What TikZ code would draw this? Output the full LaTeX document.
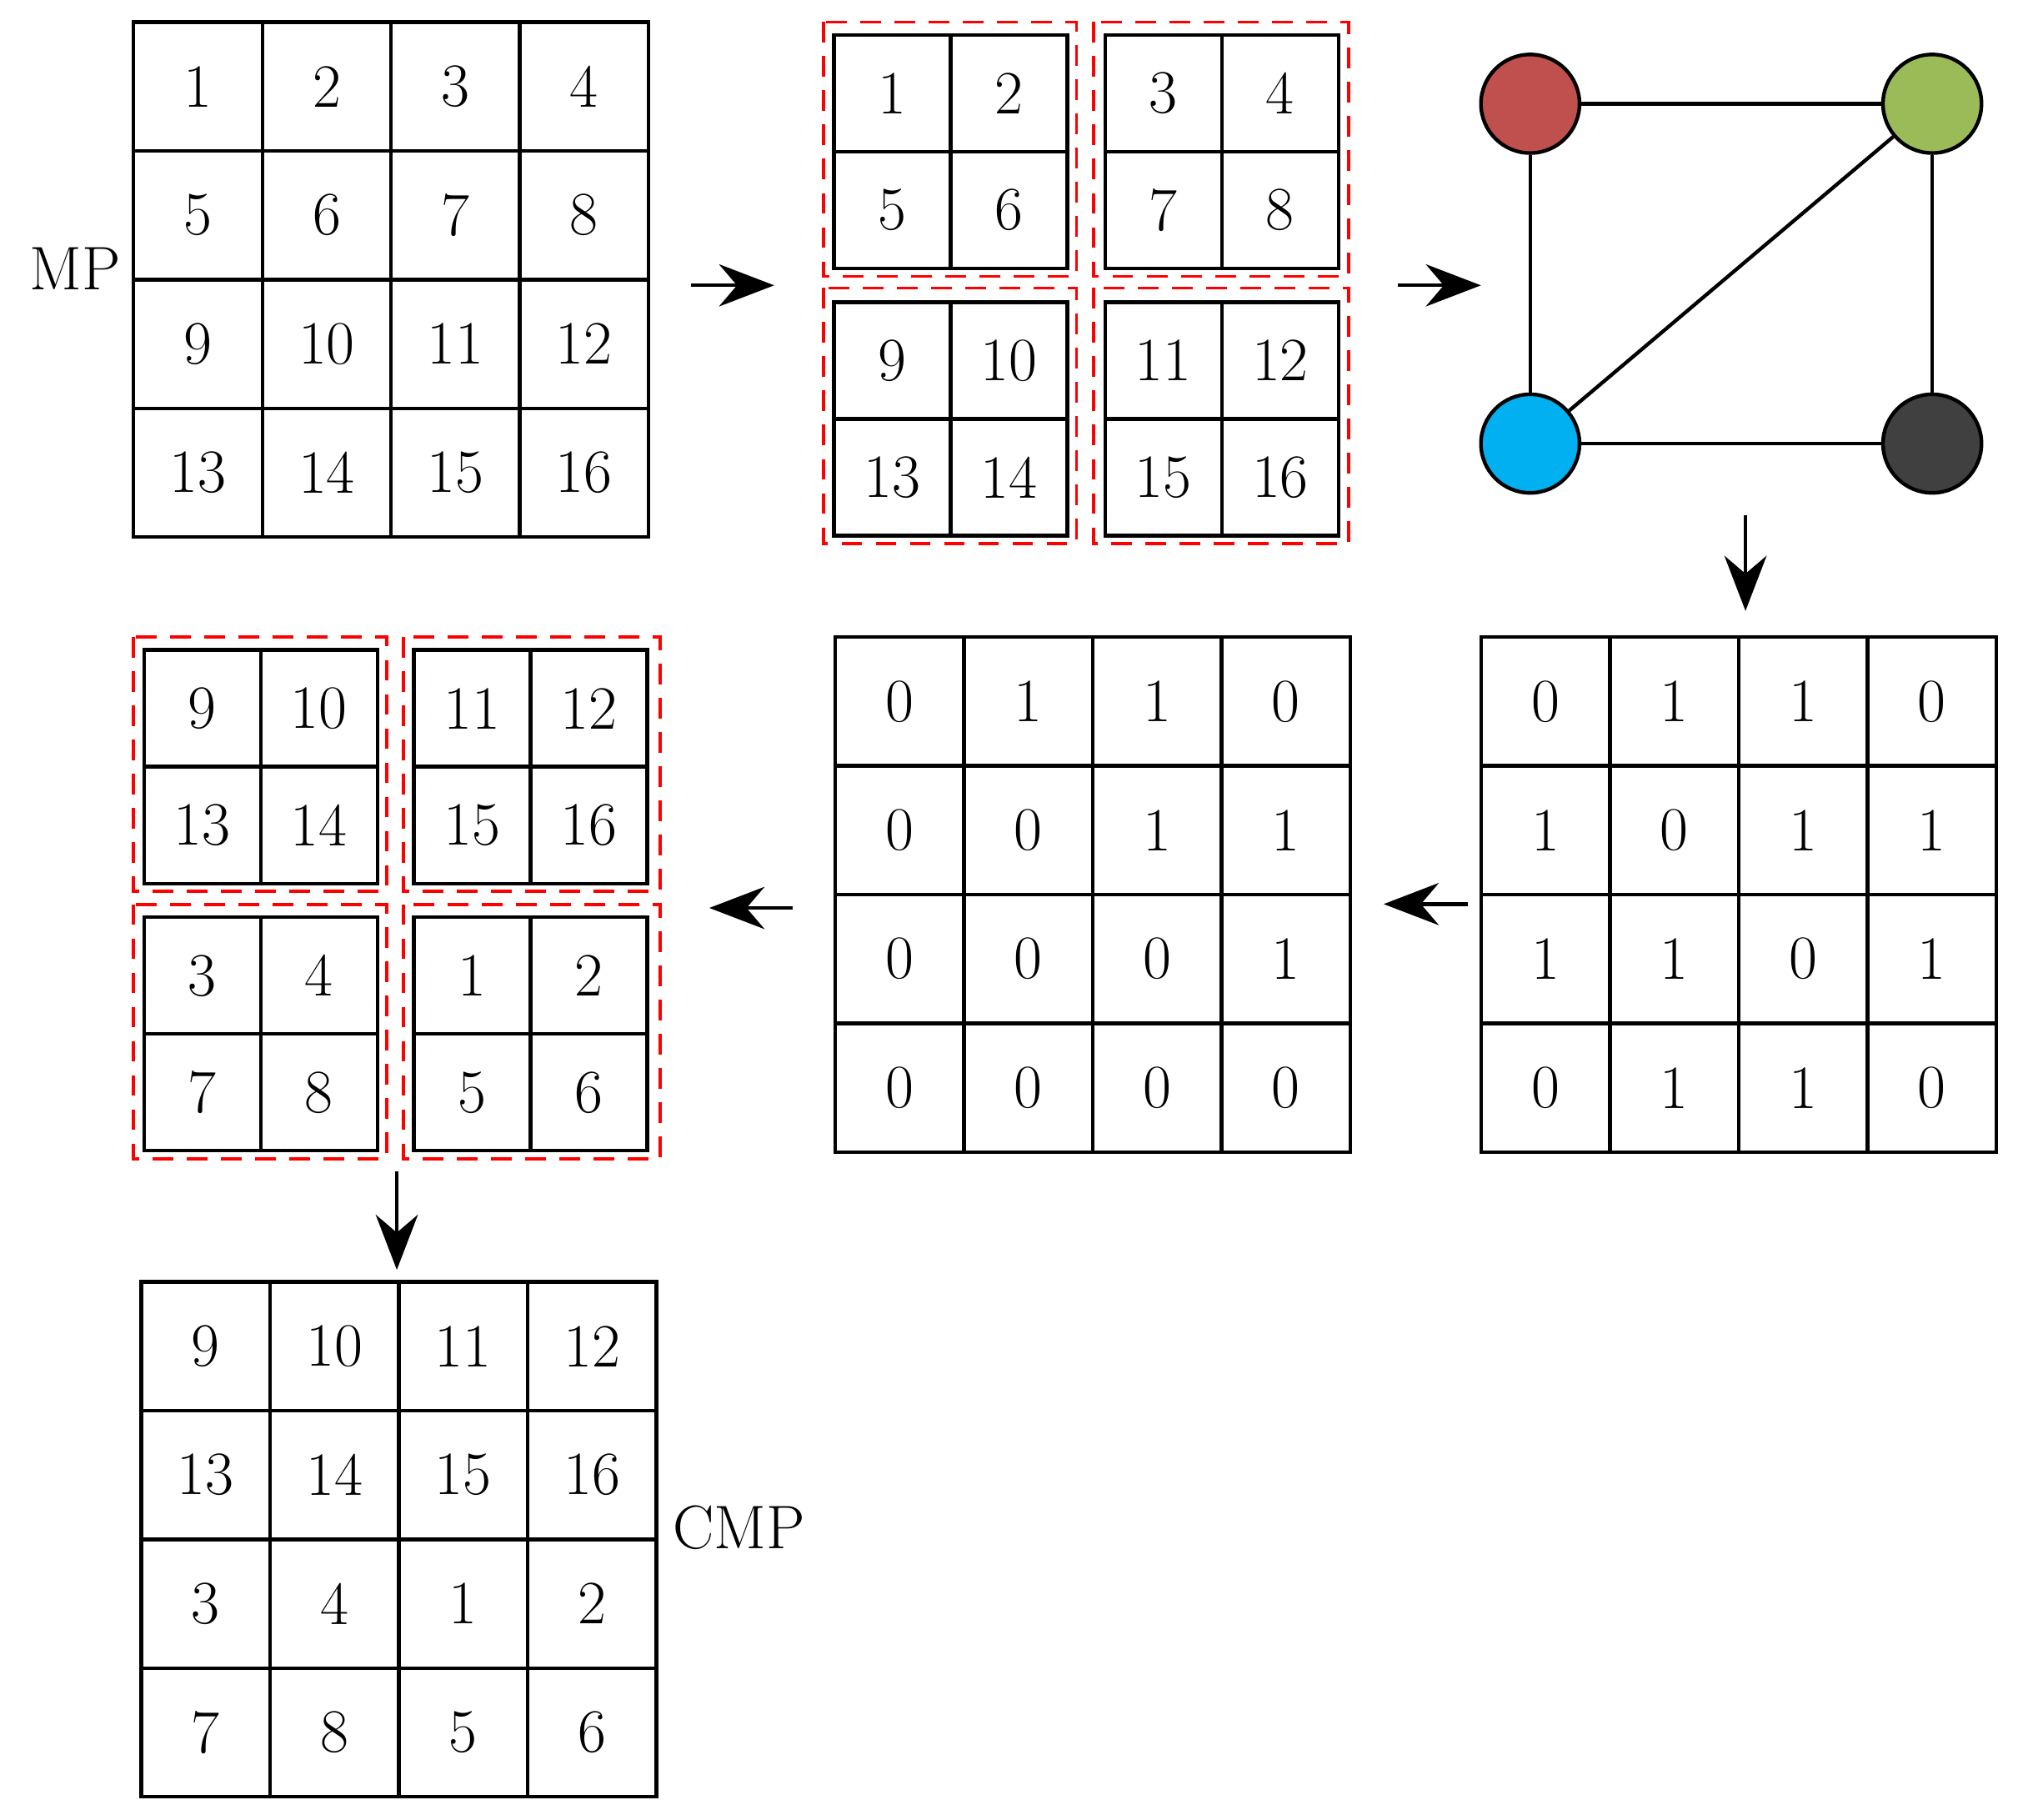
\documentclass[tikz,border=0pt]{standalone}
\usetikzlibrary{arrows.meta}
\tikzset{
 cell/.style={draw, line width=1.6pt, inner sep=0pt, font=\fontsize{27}{30}\selectfont},
 redbox/.style={draw=red, dashed, line width=1.4pt, dash pattern=on 9pt off 6pt},
 arr/.style={line width=1.6pt, -{Stealth[length=0.85cm,width=0.65cm]}},
 gnode/.style={circle, draw, line width=1.6pt, minimum size=1.52cm, inner sep=0pt},
 edge/.style={line width=1.6pt},
 lab/.style={font=\fontsize{27}{30}\selectfont}
}
\newcommand{\mygrid}[6]{%
 \foreach \v [count=\k from 0] in {#6} {
   \pgfmathtruncatemacro\rr{div(\k,#5)}
   \pgfmathtruncatemacro\cc{mod(\k,#5)}
   \node[cell, minimum size={#4*0.02cm}] (#1-\rr-\cc) at ({(#2+(\cc+0.5)*#4)*0.02},{-(#3+(\rr+0.5)*#4)*0.02}) {\v};
 }}
\newcommand{\rbox}[5]{\draw[redbox] ({#2*0.02},{-#3*0.02}) rectangle ({#4*0.02},{-#5*0.02}); \coordinate (#1) at ({(#2+#4)*0.01},{-(#3+#5)*0.01});}
\begin{document}
\begin{tikzpicture}
\useasboundingbox (0,0) rectangle (31.2,-28.06);
% MP
\mygrid{A}{103}{17}{99.25}{4}{1,2,3,4,5,6,7,8,9,10,11,12,13,14,15,16}
\node[lab] (mp) at (1.16,-4.14) {MP};
% split
\rbox{r1}{635}{17}{830}{213}
\rbox{r2}{843}{17}{1040}{213}
\rbox{r3}{635}{222}{830}{419}
\rbox{r4}{843}{222}{1040}{419}
\mygrid{B1}{643}{27}{90}{2}{1,2,5,6}
\mygrid{B2}{852}{27}{90}{2}{3,4,7,8}
\mygrid{B3}{643}{233}{90}{2}{9,10,13,14}
\mygrid{B4}{852}{233}{90}{2}{11,12,15,16}
\coordinate (a1s) at (10.66,-4.4); \coordinate (a1e) at (11.94,-4.4);
\draw[arr] (a1s) -- (a1e);
\coordinate (a2s) at (21.56,-4.4); \coordinate (a2e) at (22.84,-4.4);
\draw[arr] (a2s) -- (a2e);
% graph
\node[gnode, fill={rgb,255:red,192;green,80;blue,77}] (gr) at (23.6,-1.6) {};
\node[gnode, fill={rgb,255:red,155;green,187;blue,89}] (gg) at (29.8,-1.6) {};
\node[gnode, fill={rgb,255:red,0;green,176;blue,240}] (gb) at (23.6,-6.84) {};
\node[gnode, fill={rgb,255:red,64;green,64;blue,64}] (gd) at (29.8,-6.84) {};
\draw[edge] (gr) -- (gg); \draw[edge] (gr) -- (gb); \draw[edge] (gg) -- (gb);
\draw[edge] (gg) -- (gd); \draw[edge] (gb) -- (gd);
\coordinate (a3s) at (26.92,-7.94); \coordinate (a3e) at (26.92,-9.42);
\draw[arr] (a3s) -- (a3e);
% matrices
\mygrid{C}{1142}{491}{99.25}{4}{0,1,1,0,1,0,1,1,1,1,0,1,0,1,1,0}
\mygrid{D}{644}{491}{99.25}{4}{0,1,1,0,0,0,1,1,0,0,0,1,0,0,0,0}
\coordinate (a4s) at (22.64,-13.94); \coordinate (a4e) at (21.34,-13.94);
\draw[arr] (a4s) -- (a4e);
\coordinate (a5s) at (12.22,-14.0); \coordinate (a5e) at (10.94,-14.0);
\draw[arr] (a5s) -- (a5e);
% rearranged split
\rbox{s1}{103}{491}{298}{687}
\rbox{s2}{311}{491}{509}{687}
\rbox{s3}{103}{697}{298}{893}
\rbox{s4}{311}{697}{509}{893}
\mygrid{E1}{111}{501}{90}{2}{9,10,13,14}
\mygrid{E2}{319}{501}{90}{2}{11,12,15,16}
\mygrid{E3}{111}{707}{90}{2}{3,4,7,8}
\mygrid{E4}{319}{707}{90}{2}{1,2,5,6}
\coordinate (a6s) at (6.12,-18.06); \coordinate (a6e) at (6.12,-19.58);
\draw[arr] (a6s) -- (a6e);
% CMP
\mygrid{F}{109}{988}{99.25}{4}{9,10,11,12,13,14,15,16,3,4,1,2,7,8,5,6}
\node[lab] (cmp) at (11.4,-23.56) {CMP};
\end{tikzpicture}
\end{document}
